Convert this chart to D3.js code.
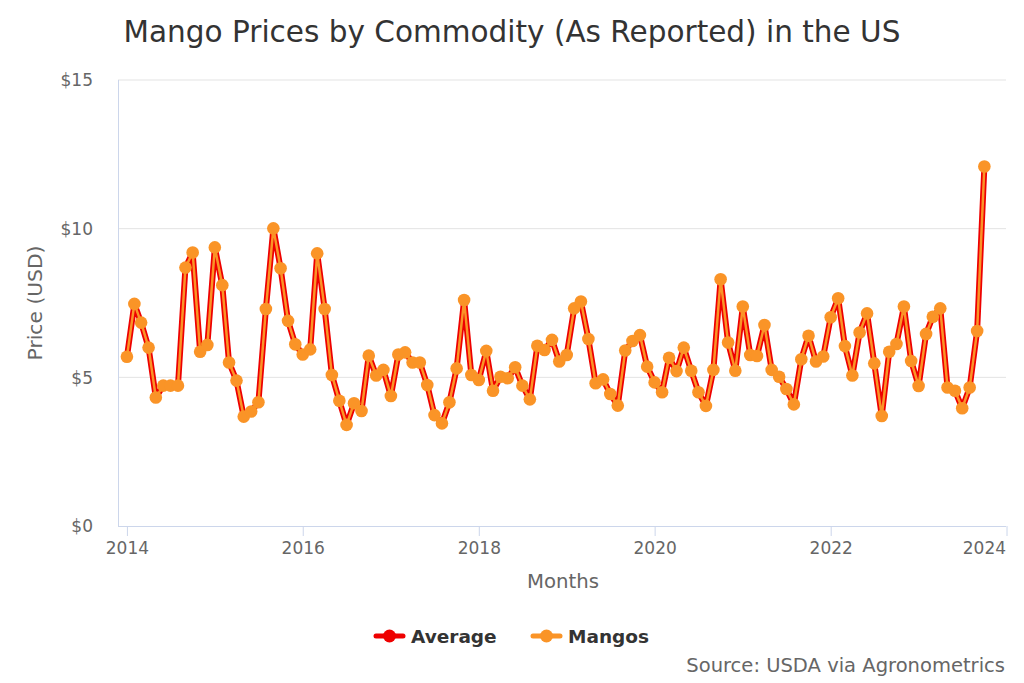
<!DOCTYPE html>
<html>
<head>
<meta charset="utf-8">
<script src="https://cdn.jsdelivr.net/npm/d3@7"></script>
<style>
  body { margin: 0; background: #fff; }
  svg { display: block; font-family: "DejaVu Sans", Verdana, sans-serif; }
</style>
</head>
<body>
<svg id="chart" width="1024" height="683"></svg>
<script>
// ---- Data ----
const startYear = 2014;
const startMonth = 0; // January
const mangoPrices = [
  5.69, 7.47, 6.84, 6.00, 4.32, 4.72, 4.72, 4.72, 8.69, 9.20, 5.86, 6.09,
  9.37, 8.10, 5.50, 4.89, 3.68, 3.85, 4.16, 7.30, 10.01, 8.67, 6.90, 6.11,
  5.77, 5.94, 9.17, 7.30, 5.08, 4.21, 3.40, 4.13, 3.87, 5.73, 5.06, 5.25,
  4.37, 5.77, 5.84, 5.50, 5.50, 4.74, 3.73, 3.45, 4.16, 5.30, 7.60, 5.08,
  4.91, 5.89, 4.55, 5.02, 4.97, 5.34, 4.72, 4.26, 6.06, 5.92, 6.26, 5.53,
  5.75, 7.32, 7.55, 6.29, 4.80, 4.93, 4.44, 4.05, 5.90, 6.22, 6.42, 5.36,
  4.83, 4.50, 5.66, 5.21, 6.00, 5.22, 4.50, 4.04, 5.25, 8.30, 6.17, 5.22,
  7.38, 5.75, 5.72, 6.76, 5.25, 5.02, 4.61, 4.09, 5.61, 6.40, 5.53, 5.70,
  7.02, 7.66, 6.05, 5.06, 6.51, 7.15, 5.47, 3.70, 5.86, 6.12, 7.38, 5.55,
  4.71, 6.46, 7.04, 7.32, 4.66, 4.55, 3.96, 4.66, 6.56, 12.09
];
const averagePrices = mangoPrices.slice(); // single commodity: average equals mangos
const yTicks = [0, 5, 10, 15];
const xTickYears = [2014, 2016, 2018, 2020, 2022, 2024];
const seriesNames = ["Average", "Mangos"];
const seriesColors = ["#ee0000", "#fa9427"];

const toDate = i => new Date(startYear, startMonth + i, 1);
const avgData = averagePrices.map((v, i) => ({ date: toDate(i), value: v }));
const mangoData = mangoPrices.map((v, i) => ({ date: toDate(i), value: v }));

// ---- Layout ----
const svg = d3.select("#chart");
const plot = { left: 118, right: 1006, top: 80, bottom: 526 };

const x = d3.scaleTime()
  .domain([new Date(2013, 10, 25), new Date(2024, 0, 3)])
  .range([plot.left, 1007]);
const y = d3.scaleLinear().domain([0, 15]).range([plot.bottom, plot.top]);

function fitWidth(sel, target) {
  const w = sel.node().getComputedTextLength();
  const fs = parseFloat(sel.attr("font-size"));
  sel.attr("font-size", (fs * target / w).toFixed(2));
}

// Gridlines
svg.append("g").selectAll("line")
  .data(yTicks.filter(t => t > 0))
  .join("line")
  .attr("x1", plot.left).attr("x2", plot.right)
  .attr("y1", d => y(d)).attr("y2", d => y(d))
  .attr("stroke", "#e3e3e3").attr("stroke-width", 1);

// Y axis
const yAxis = svg.append("g")
  .attr("transform", `translate(${plot.left},0)`)
  .call(d3.axisLeft(y).tickValues(yTicks).tickSize(0).tickPadding(25).tickFormat(d => "$" + d));
yAxis.select(".domain").attr("stroke", "#ccd6eb").attr("d", `M0.5,${plot.top}V${plot.bottom}`);
yAxis.selectAll("text").attr("font-size", 17).attr("fill", "#666").attr("font-family", "DejaVu Sans").attr("dy", "0.35em");

// X axis
const xAxis = svg.append("g")
  .attr("transform", `translate(0,${plot.bottom})`)
  .call(d3.axisBottom(x).tickValues(xTickYears.map(yr => new Date(yr, 0, 1)))
    .tickSize(10).tickPadding(6).tickFormat(d3.timeFormat("%Y")));
xAxis.select(".domain").attr("stroke", "#ccd6eb").attr("d", `M${plot.left},0.5H${plot.right}`);
xAxis.selectAll(".tick line").attr("stroke", "#ccd6eb");
xAxis.selectAll("text").attr("font-size", 17).attr("fill", "#666").attr("font-family", "DejaVu Sans");
xAxis.selectAll(".tick").filter(d => d.getFullYear() === 2024).select("text").attr("text-anchor", "end").attr("dx", "-1");

// Axis titles
const yTitle = svg.append("text")
  .attr("transform", `translate(42,${(plot.top + plot.bottom) / 2}) rotate(-90)`)
  .attr("text-anchor", "middle").attr("font-size", 20).attr("fill", "#666")
  .text("Price (USD)");
fitWidth(yTitle, 115);

const xTitle = svg.append("text")
  .attr("x", 563).attr("y", 588)
  .attr("text-anchor", "middle").attr("font-size", 20).attr("fill", "#666")
  .text("Months");
fitWidth(xTitle, 72);

// Title
const title = svg.append("text")
  .attr("x", 512).attr("y", 42)
  .attr("text-anchor", "middle").attr("font-size", 27).attr("fill", "#333")
  .text("Mango Prices by Commodity (As Reported) in the US");
fitWidth(title, 777);

// Lines
const line = d3.line().x(d => x(d.date)).y(d => y(d.value));
svg.append("path").datum(avgData)
  .attr("d", line).attr("fill", "none")
  .attr("stroke", seriesColors[0]).attr("stroke-width", 6).attr("stroke-linejoin", "round");
svg.append("path").datum(mangoData)
  .attr("d", line).attr("fill", "none")
  .attr("stroke", seriesColors[1]).attr("stroke-width", 2.5).attr("stroke-linejoin", "round");

// Markers
svg.append("g").selectAll("circle")
  .data(mangoData).join("circle")
  .attr("cx", d => x(d.date)).attr("cy", d => y(d.value))
  .attr("r", 6.3).attr("fill", seriesColors[1]);

// Legend
const legendItems = [
  { name: seriesNames[0], color: seriesColors[0], sx: 376, tx: 411 },
  { name: seriesNames[1], color: seriesColors[1], sx: 533, tx: 568 }
];
const lg = svg.append("g");
legendItems.forEach(it => {
  lg.append("line").attr("x1", it.sx).attr("x2", it.sx + 27)
    .attr("y1", 636).attr("y2", 636)
    .attr("stroke", it.color).attr("stroke-width", 5).attr("stroke-linecap", "round");
  lg.append("circle").attr("cx", it.sx + 13.5).attr("cy", 636).attr("r", 6.5).attr("fill", it.color);
  const t = lg.append("text").attr("x", it.tx).attr("y", 642.5)
    .attr("font-size", 18.5).attr("font-weight", "bold").attr("fill", "#333")
    .text(it.name);
});

// Source
const src = svg.append("text")
  .attr("x", 1005).attr("y", 672)
  .attr("text-anchor", "end").attr("font-size", 17).attr("fill", "#666")
  .text("Source: USDA via Agronometrics");
fitWidth(src, 319);
</script>
</body>
</html>
